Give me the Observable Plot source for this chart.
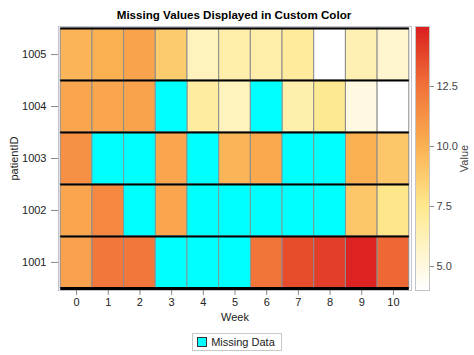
<!DOCTYPE html>
<html>
<head>
<meta charset="utf-8">
<script src="https://cdn.jsdelivr.net/npm/d3@7"></script>
<script src="https://cdn.jsdelivr.net/npm/@observablehq/plot@0.6"></script>
<style>
  html, body { margin: 0; padding: 0; background: #fff; }
  body { width: 474px; height: 355px; position: relative; overflow: hidden; font-family: "Liberation Sans", Arial, sans-serif; }
  #title { position: absolute; left: -3px; top: 8px; width: 474px; text-align: center; font-weight: bold; font-size: 11.6px; color: #000; }
  #main { position: absolute; left: 0; top: 24px; }
  #bar { position: absolute; left: 412px; top: 24px; }
  #legend { position: absolute; left: 0; top: 332px; width: 474px; text-align: center; }
  #legend .box { display: inline-block; border: 1px solid #c8c8c8; padding: 2px 6px 2px 4px; font-size: 11px; color: #222; }
  #legend .sw { display: inline-block; width: 8px; height: 8px; background: #00FFFF; border: 1px solid #333; vertical-align: -1px; margin-right: 4px; }
</style>
</head>
<body>
<div id="title">Missing Values Displayed in Custom Color</div>
<div id="main"></div>
<div id="bar"></div>
<div id="legend"><span class="box"><span class="sw"></span>Missing Data</span></div>
<script>
const weeks = [0, 1, 2, 3, 4, 5, 6, 7, 8, 9, 10];
const patients = ["1001", "1002", "1003", "1004", "1005"];
const v1001 = [10.6, 12.3, 12.3, null, null, null, 12.4, 13.6, 14.0, 14.8, 12.8];
const v1002 = [10.4, 11.6, null, 10.4, null, null, null, null, null, 9.0, 7.6];
const v1003 = [11.3, null, null, 10.4, null, 9.8, 10.3, null, null, 10.0, 9.0];
const v1004 = [10.4, 10.4, 10.5, null, 6.9, 6.0, null, 6.5, 7.3, 4.9, 4.0];
const v1005 = [9.8, 10.0, 10.5, 8.8, 6.0, 6.6, 6.6, 7.0, 4.0, 6.3, 5.5];
const colorTicks = [5, 7.5, 10, 12.5];

const series = [v1001, v1002, v1003, v1004, v1005];
const data = [];
patients.forEach((p, i) => {
  weeks.forEach((w, j) => {
    data.push({patient: p, row: i + 1, week: w, value: series[i][j]});
  });
});
const present = data.filter(d => d.value != null);
const missing = data.filter(d => d.value == null);

const colorScale = {
  type: "linear",
  domain: [4, 7.5, 10, 12.5, 15],
  range: ["#FFFFFF", "#FEE88C", "#FBB052", "#F17238", "#DA1C1F"],
  interpolate: "rgb"
};

const H = 306, MT = 2, MB = 40;
const boundaries = d3.range(0, patients.length + 1).map(i => i + 0.5);

const main = Plot.plot({
  width: 474,
  height: H,
  marginTop: MT,
  marginBottom: MB,
  marginLeft: 58,
  marginRight: 63,
  style: {fontFamily: "Liberation Sans, Arial, sans-serif", fontSize: "11px", color: "#222"},
  x: {domain: [-0.57, 10.57]},
  y: {domain: [0.46, 5.54]},
  color: colorScale,
  marks: [
    Plot.rect(present, {x1: d => d.week - 0.5, x2: d => d.week + 0.5, y1: d => d.row - 0.5, y2: d => d.row + 0.5, fill: "value", stroke: "#8c8c8c", strokeWidth: 1}),
    Plot.rect(missing, {x1: d => d.week - 0.5, x2: d => d.week + 0.5, y1: d => d.row - 0.5, y2: d => d.row + 0.5, fill: "#00FFFF", stroke: "#7a9a9a", strokeWidth: 1}),
    Plot.ruleY(boundaries, {x1: -0.5, x2: 10.5, stroke: "#000", strokeWidth: d => d === boundaries[0] ? 3 : 2}),
    Plot.frame({stroke: "#c4c4d0"}),
    Plot.axisX({ticks: weeks, tickSize: 5, tickPadding: 3, stroke: "#888", fill: "#222", label: "Week", labelAnchor: "center", labelArrow: "none", labelOffset: 30, fontSize: 11}),
    Plot.axisY({ticks: [1, 2, 3, 4, 5], tickFormat: d => patients[d - 1], tickSize: 7, tickPadding: 5, stroke: "#888", fill: "#222", label: "patientID", labelAnchor: "center", labelArrow: "none", labelOffset: 48, fontSize: 11})
  ]
});
document.getElementById("main").appendChild(main);

const gradient = d3.range(4, 15, 0.05);
const bar = Plot.plot({
  width: 62,
  height: H,
  marginTop: MT,
  marginBottom: MB,
  marginLeft: 3,
  marginRight: 45,
  style: {fontFamily: "Liberation Sans, Arial, sans-serif", fontSize: "11px", color: "#222"},
  x: {domain: [0, 1], axis: null},
  y: {domain: [4, 15]},
  color: colorScale,
  marks: [
    Plot.rect(gradient, {x1: 0, x2: 1, y1: d => d, y2: d => Math.min(15, d + 0.12), fill: d => d, shapeRendering: "crispEdges"}),
    Plot.frame({stroke: "#c4c4c4"}),
    Plot.axisY({anchor: "right", ticks: colorTicks, tickFormat: d3.format(".1f"), tickSize: 4, tickPadding: 3, stroke: "#888", fill: "#444", label: "Value", labelAnchor: "center", labelArrow: "none", labelOffset: 38, fontSize: 11})
  ]
});
document.getElementById("bar").appendChild(bar);
</script>
</body>
</html>
